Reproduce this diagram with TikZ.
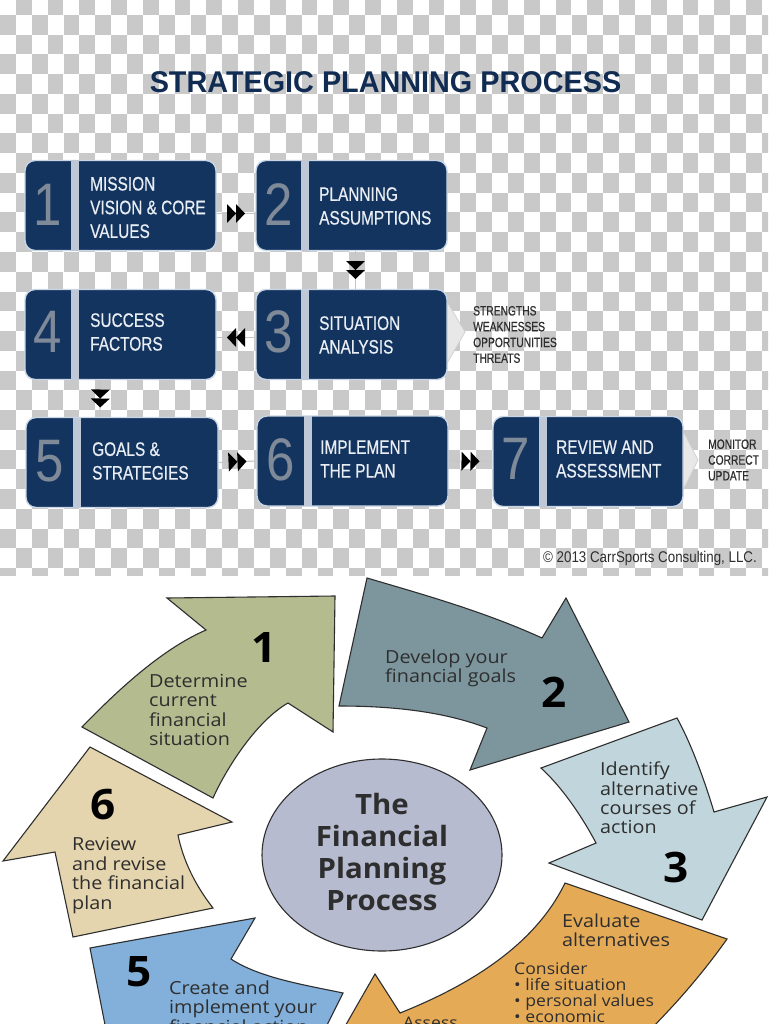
\documentclass[tikz,border=0pt]{standalone}
\usepackage{fontspec}
\usetikzlibrary{decorations.markings,shapes.geometric}
\setmainfont{Liberation Sans}
\newfontfamily\numf[FakeStretch=0.85]{Liberation Sans}
\newfontfamily\narrowf[FakeStretch=0.79,FakeBold=0.5]{Liberation Sans}
\newfontfamily\sidef[FakeStretch=0.76,FakeBold=0.5]{Liberation Sans}
\newfontfamily\copyf[FakeStretch=0.86]{Liberation Sans}
\newfontfamily\titlef[FakeStretch=0.96]{Liberation Sans}
\newfontfamily\openf[FakeStretch=1.1]{Open Sans}
\newfontfamily\hubf[FakeStretch=1.05]{Open Sans}
\definecolor{navy}{HTML}{143460}
\definecolor{edgeblue}{HTML}{C9D6E6}
\definecolor{divider}{HTML}{BFC8D6}
\definecolor{numgrey}{HTML}{7F8A99}
\definecolor{boxtext}{HTML}{E9EEF4}
\definecolor{checker}{HTML}{C9C9C9}
\definecolor{ink}{HTML}{2E2E2E}
\definecolor{aOne}{HTML}{B3BB8F}
\definecolor{aTwo}{HTML}{7D969E}
\definecolor{aThree}{HTML}{C1D6DC}
\definecolor{aFour}{HTML}{E5AA56}
\definecolor{aFive}{HTML}{82B0DA}
\definecolor{aSix}{HTML}{E5D5AE}
\definecolor{hub}{HTML}{B6BBD0}
\tikzset{
  stepbox/.style={draw=edgeblue,line width=1.4pt,fill=navy,rounded corners=10pt,inner sep=0pt,minimum width=#1,minimum height=90pt},
  divbar/.style={fill=divider,draw=none},
  bignum/.style={text=numgrey,font=\numf\fontsize{60}{60}\selectfont,inner sep=0pt},
  boxlabel/.style={text=boxtext,font=\narrowf\fontsize{19.5}{23.7}\selectfont,align=left,anchor=west,inner sep=0pt},
  sidelabel/.style={text=ink,font=\sidef\fontsize{13.5}{15.8}\selectfont,align=left,anchor=west,inner sep=0pt},
  chevron/.style={fill=gray!18,draw=gray!35,line width=.8pt},
  linkline/.style={draw=gray!45,line width=1.2pt,postaction={decorate},
    decoration={markings,mark=at position .5 with {
      \fill[black] (-9,-9.5)--(0,0)--(-9,9.5)--cycle;
      \fill[black] (0,-9.5)--(9,0)--(0,9.5)--cycle;}}},
  arrowshape/.style={draw=ink,line width=1.1pt,line join=miter},
  steptext/.style={text=ink,font=\openf\fontsize{18}{19.4}\selectfont,align=left,anchor=west,inner sep=0pt},
  smalltext/.style={text=ink,font=\openf\fontsize{16}{16}\selectfont,align=left,anchor=west,inner sep=0pt},
  stepdigit/.style={text=black,font=\hubf\bfseries\fontsize{42}{42}\selectfont,inner sep=0pt},
}
\begin{document}
\begin{tikzpicture}[x=1pt,y=-1pt]
\useasboundingbox (0,0) rectangle (768,1024);
\clip (0,0) rectangle (768,1024);
\fill[white] (0,0) rectangle (768,1024);
% checkered background
\begin{scope}
\clip (0,0) rectangle (768,575);
\foreach \k in {-1,...,28}{
  \pgfmathsetmacro\off{mod(\k+2,2)==0?0:15.8}
  \foreach \j in {0,...,24}{
    \fill[checker] ({\off+\j*31.75},{15+\k*19.75}) rectangle +(15.9,19.75);
  }
}
\end{scope}
% title
\node[text=navy!85!black,font=\titlef\bfseries\fontsize{30}{30}\selectfont,inner sep=0pt] (title) at (385.5,82) {STRATEGIC PLANNING PROCESS};
% chevrons
\path[chevron] (446,300) -- (465,332) -- (446,365) -- cycle;
\path[chevron] (683,431) -- (698,460) -- (683,490) -- cycle;
% boxes
\node[stepbox=191pt] (b1) at (120.5,205.5) {};
\node[stepbox=191pt] (b2) at (351.5,205.5) {};
\node[stepbox=191pt] (b4) at (120.5,334.5) {};
\node[stepbox=191pt] (b3) at (351.5,334.5) {};
\node[stepbox=192pt] (b5) at (122,462.5) {};
\node[stepbox=191pt] (b6) at (352.5,461) {};
\node[stepbox=190pt] (b7) at (588,461.5) {};
% dividers
\fill[divbar] (71,160.5) rectangle (79,250.5);
\fill[divbar] (301,160.5) rectangle (308.5,250.5);
\fill[divbar] (71,289.5) rectangle (79,379.5);
\fill[divbar] (301,289.5) rectangle (308.5,379.5);
\fill[divbar] (73,417.5) rectangle (81,507.5);
\fill[divbar] (304,416) rectangle (312,506);
\fill[divbar] (539,416.5) rectangle (547,506.5);
% numbers
\node[bignum] (n1) at (48,205) {1};
\node[bignum] (n2) at (279,205) {2};
\node[bignum] (n3) at (279,332) {3};
\node[bignum] (n4) at (48,332) {4};
\node[bignum] (n5) at (50,461) {5};
\node[bignum] (n6) at (281,460) {6};
\node[bignum] (n7) at (516,459) {7};
% box labels
\node[boxlabel] (l1) at (90,207.5) {MISSION\\VISION \& CORE\\VALUES};
\node[boxlabel] (l2) at (319,206) {PLANNING\\ASSUMPTIONS};
\node[boxlabel] (l3) at (319,335) {SITUATION\\ANALYSIS};
\node[boxlabel] (l4) at (90,332) {SUCCESS\\FACTORS};
\node[boxlabel] (l5) at (92,461) {GOALS \&\\STRATEGIES};
\node[boxlabel] (l6) at (320,459) {IMPLEMENT\\THE PLAN};
\node[boxlabel] (l7) at (556,459) {REVIEW AND\\ASSESSMENT};
% side labels
\node[sidelabel] (s3) at (473,334.5) {STRENGTHS\\WEAKNESSES\\OPPORTUNITIES\\THREATS};
\node[sidelabel] (s7) at (708,460) {MONITOR\\CORRECT\\UPDATE};
\node[text=ink,font=\copyf\fontsize{15.5}{18}\selectfont,anchor=east,inner sep=0pt] (copy) at (757,558) {© 2013 CarrSports Consulting, LLC.};
% connectors
\draw[linkline] ([yshift=-8pt]b1.east) -- ([yshift=-8pt]b2.west);
\draw[linkline] ([xshift=4pt]b2.south) -- ([xshift=4pt]b3.north);
\draw[linkline] ([yshift=-3pt]b3.west) -- ([yshift=-3pt]b4.east);
\draw[linkline] ([xshift=-20pt]b4.south) -- ([xshift=-22pt]b5.north);
\draw[linkline] (b5.east) -- (b6.west);
\draw[linkline] (b6.east) -- (b7.west);
% arrows of the financial planning cycle
\draw[arrowshape,fill=aOne] (82,727) .. controls (115,693) and (160,650) .. (206,630) -- (167,598) -- (335,596) -- (333,732) -- (288,703) .. controls (258,720) and (228,765) .. (213,798) -- cycle;
\draw[arrowshape,fill=aTwo] (367,578) .. controls (425,595) and (485,612) .. (542,638) -- (566,598) -- (629,722) -- (470,770) -- (487,728) .. controls (445,712) and (395,706) .. (339,706) -- cycle;
\draw[arrowshape,fill=aThree] (677,718) .. controls (692,745) and (706,785) .. (714,812) -- (767,797) -- (702,920) -- (549,863) -- (596,843) .. controls (585,822) and (565,790) .. (541,768) -- cycle;
\draw[arrowshape,fill=aFour] (565,883) -- (727,939) .. controls (705,970) and (680,1000) .. (645,1035) -- (340,1035) -- (375,974) -- (400,1013) .. controls (470,985) and (535,945) .. (565,883) -- cycle;
\draw[arrowshape,fill=aFive] (255,918) -- (90,948) -- (107,1035) -- (322,1035) -- (343,993) .. controls (305,985) and (260,978) .. (231,959) -- cycle;
\draw[arrowshape,fill=aSix] (90,747) -- (232,822) -- (178,835) .. controls (183,860) and (195,885) .. (213,908) -- (73,937) -- (55,852) -- (3,861) -- cycle;
\node[draw=ink,line width=1.1pt,fill=hub,ellipse,minimum width=240pt,minimum height=192pt,inner sep=0pt] (hub) at (382,855) {};
\node[align=center,text=ink,inner sep=0pt,font=\hubf\bfseries\fontsize{28}{32}\selectfont] (hubtext) at (382,851.5) {The\\Financial\\Planning\\Process};
% step digits
\node[stepdigit] (d1) at (264,648) {1};
\node[stepdigit] (d2) at (554,692) {2};
\node[stepdigit] (d3) at (676,867) {3};
\node[stepdigit] (d5) at (139,972) {5};
\node[stepdigit] (d6) at (103,805) {6};
% step texts
\node[steptext] (t1) at (149,710) {Determine\\current\\financial\\situation};
\node[steptext] (t2) at (385,668.5) {Develop your\\financial goals};
\node[steptext] (t3) at (600,798) {Identify\\alternative\\courses of\\action};
\node[steptext] (t4) at (562,930.5) {Evaluate\\alternatives};
\node[smalltext] (t4b) at (514,992) {Consider\\• life situation\\• personal values\\• economic};
\node[smalltext] (t4c) at (403,1023) {Assess};
\node[steptext] (t5) at (169,1007) {Create and\\implement your\\financial action};
\node[steptext] (t6) at (72,875.5) {Review\\and revise\\the financial\\plan};
\end{tikzpicture}
\end{document}
